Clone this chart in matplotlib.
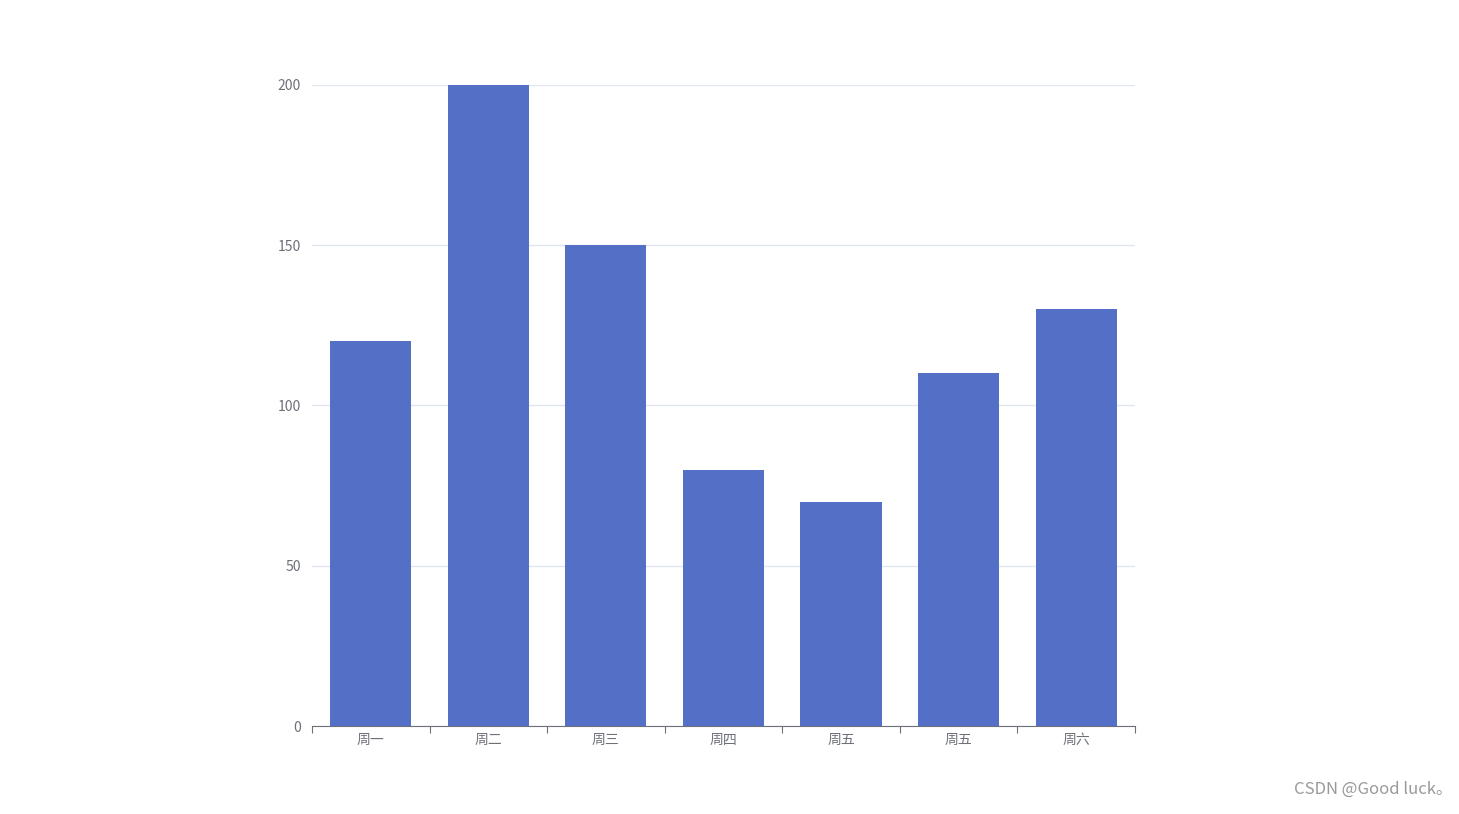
import matplotlib
matplotlib.use('Agg')
import matplotlib.pyplot as plt
import numpy as np

plt.rcParams['font.family'] = ['Noto Sans CJK SC', 'DejaVu Sans']

days = ['周一', '周二', '周三', '周四', '周五', '周五', '周六']
values = [120, 200, 150, 80, 70, 110, 130]
yticks = [0, 50, 100, 150, 200]

fig = plt.figure(figsize=(14.59, 8.14), dpi=100)
ax = fig.add_axes([0.2138, 0.1081, 0.5641, 0.7875])

x = np.arange(len(days))
ax.bar(x, values, width=0.69, color='#5470c6', zorder=3)

ax.set_xlim(-0.5, len(days) - 0.5)
ax.set_ylim(0, 200)
ax.set_yticks(yticks)
ax.set_yticklabels([str(v) for v in yticks], fontsize=10, color='#6e7079')
ax.tick_params(axis='y', length=0, pad=8)
ax.grid(axis='y', color='#e0e6f1', lw=1, zorder=0)

# category boundaries carry the tick marks, labels sit in the middle
ax.set_xticks(np.arange(len(days) + 1) - 0.5)
ax.set_xticklabels([])
ax.tick_params(axis='x', which='major', length=5, color='#6e7079')
ax.set_xticks(x, minor=True)
ax.set_xticklabels(days, minor=True, fontsize=10, color='#6e7079')
ax.tick_params(axis='x', which='minor', length=0, pad=5)

for s in ['top', 'right', 'left']:
    ax.spines[s].set_visible(False)
ax.spines['bottom'].set_color('#6e7079')

fig.text(0.887, 0.02, 'CSDN @Good luck。', fontsize=12, color='#999999',
         ha='left', va='bottom')

fig.savefig('out.png', dpi=100, facecolor='white')
